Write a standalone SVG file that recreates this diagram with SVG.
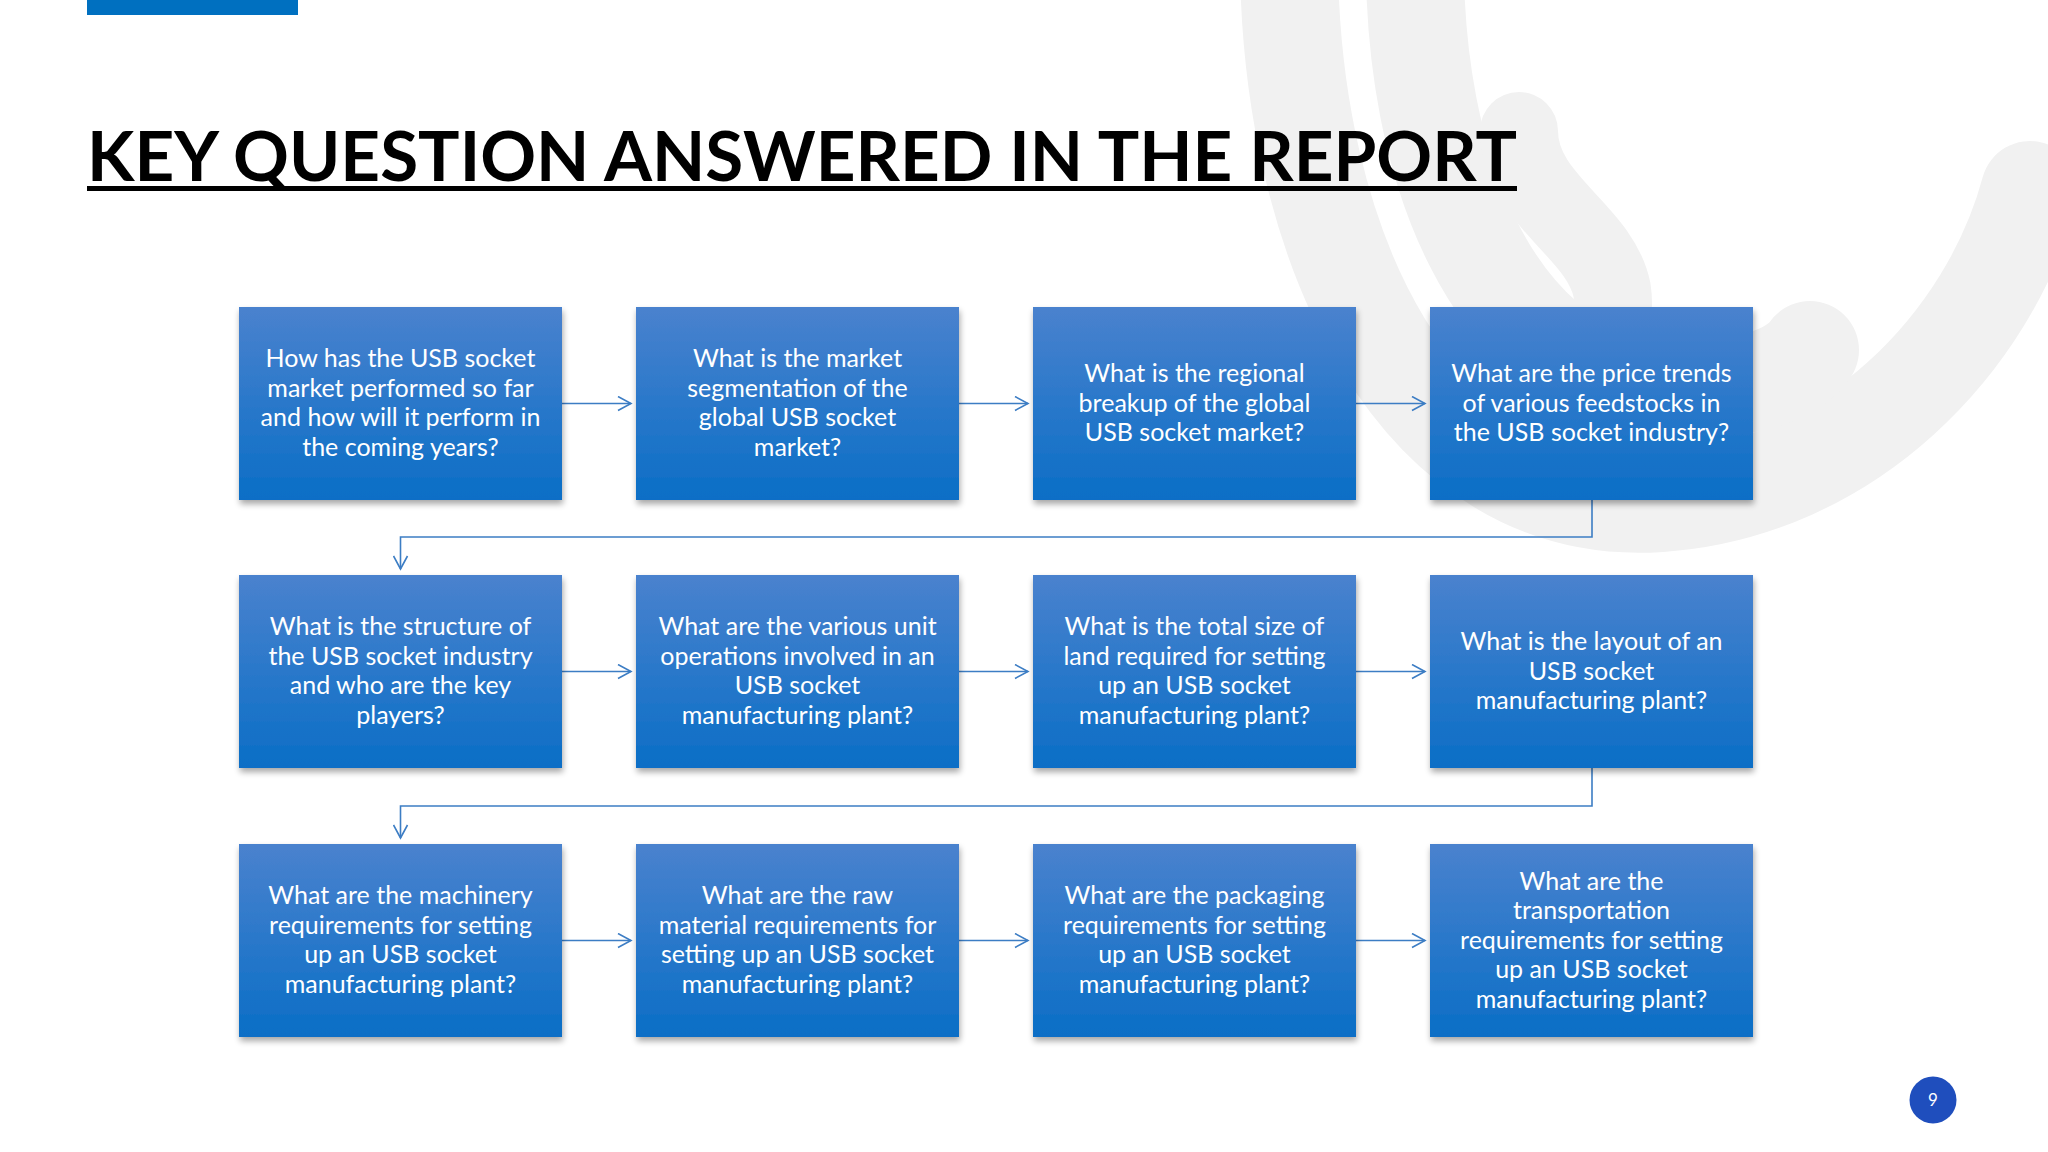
<svg xmlns="http://www.w3.org/2000/svg" width="2048" height="1152" viewBox="0 0 2048 1152">
  <defs>
    <linearGradient id="boxGrad" x1="0" y1="0" x2="0" y2="1">
      <stop offset="0" stop-color="#4A82CE"/>
      <stop offset="1" stop-color="#0A6EC6"/>
    </linearGradient>
    <filter id="shadow" x="-10%" y="-10%" width="125%" height="130%">
      <feGaussianBlur in="SourceAlpha" stdDeviation="3"/>
      <feOffset dx="1" dy="4" result="b"/>
      <feComponentTransfer><feFuncA type="linear" slope="0.35"/></feComponentTransfer>
      <feMerge><feMergeNode/><feMergeNode in="SourceGraphic"/></feMerge>
    </filter>
    <marker id="arrow" markerWidth="16" markerHeight="16" refX="14" refY="8" orient="auto" markerUnits="userSpaceOnUse">
      <path d="M1,1 L14,8 L1,15" fill="none" stroke="#3C7DC4" stroke-width="1.6"/>
    </marker>
  </defs>
  <style>
    .box { fill: url(#boxGrad); filter: url(#shadow); }
    .lbl { font-family: Lato, "Noto Sans", sans-serif; font-size: 25px; fill: #FFFFFF; text-anchor: middle; }
    .conn { fill: none; stroke: #3C7DC4; stroke-width: 1.6; marker-end: url(#arrow); }
    .wm { fill: none; stroke: #F1F1F1; stroke-linecap: round; }
  </style>

  <rect width="2048" height="1152" fill="#FFFFFF"/>

  <g id="watermark">
    <path class="wm" stroke-width="98" d="M1289 -60 C1285 250 1420 520 1660 503 C1850 490 1990 340 2030 190"/>
    <path class="wm" stroke-width="98" d="M1415 -60 C1410 180 1500 360 1640 386 C1720 398 1790 380 1810 350"/>
    <path class="wm" stroke-width="78" d="M1519 131 C1519 200 1600 230 1612 290 C1618 330 1595 360 1560 372"/>
  </g>

  <rect id="top-bar" x="87" y="0" width="211" height="15" fill="#0070C0"/>

  <g id="title">
    <text x="87" y="181" font-family="Lato, 'Noto Sans', sans-serif" font-weight="bold" font-size="68" fill="#000000" textLength="1430" lengthAdjust="spacingAndGlyphs">KEY QUESTION ANSWERED IN THE REPORT</text>
    <rect x="87" y="186" width="1430" height="5" fill="#000000"/>
  </g>

  <g id="connectors">
    <line class="conn" x1="562" y1="403.5" x2="631" y2="403.5"/>
    <line class="conn" x1="959" y1="403.5" x2="1028" y2="403.5"/>
    <line class="conn" x1="1356" y1="403.5" x2="1425" y2="403.5"/>
    <polyline class="conn" points="1592,500 1592,537 400.5,537 400.5,569"/>
    <line class="conn" x1="562" y1="671.5" x2="631" y2="671.5"/>
    <line class="conn" x1="959" y1="671.5" x2="1028" y2="671.5"/>
    <line class="conn" x1="1356" y1="671.5" x2="1425" y2="671.5"/>
    <polyline class="conn" points="1592,768 1592,806 400.5,806 400.5,838"/>
    <line class="conn" x1="562" y1="940.5" x2="631" y2="940.5"/>
    <line class="conn" x1="959" y1="940.5" x2="1028" y2="940.5"/>
    <line class="conn" x1="1356" y1="940.5" x2="1425" y2="940.5"/>
  </g>

  <g id="node-1">
    <rect class="box" x="239" y="307" width="323" height="193"/>
    <text class="lbl" x="400.5" y="367"><tspan x="400.5">How has the USB socket</tspan><tspan x="400.5" dy="29.5">market performed so far</tspan><tspan x="400.5" dy="29.5">and how will it perform in</tspan><tspan x="400.5" dy="29.5">the coming years?</tspan></text>
  </g>
  <g id="node-2">
    <rect class="box" x="636" y="307" width="323" height="193"/>
    <text class="lbl" x="797.5" y="367"><tspan x="797.5">What is the market</tspan><tspan x="797.5" dy="29.5">segmentation of the</tspan><tspan x="797.5" dy="29.5">global USB socket</tspan><tspan x="797.5" dy="29.5">market?</tspan></text>
  </g>
  <g id="node-3">
    <rect class="box" x="1033" y="307" width="323" height="193"/>
    <text class="lbl" x="1194.5" y="382"><tspan x="1194.5">What is the regional</tspan><tspan x="1194.5" dy="29.5">breakup of the global</tspan><tspan x="1194.5" dy="29.5">USB socket market?</tspan></text>
  </g>
  <g id="node-4">
    <rect class="box" x="1430" y="307" width="323" height="193"/>
    <text class="lbl" x="1591.5" y="382"><tspan x="1591.5">What are the price trends</tspan><tspan x="1591.5" dy="29.5">of various feedstocks in</tspan><tspan x="1591.5" dy="29.5">the USB socket industry?</tspan></text>
  </g>

  <g id="node-5">
    <rect class="box" x="239" y="575" width="323" height="193"/>
    <text class="lbl" x="400.5" y="635"><tspan x="400.5">What is the structure of</tspan><tspan x="400.5" dy="29.5">the USB socket industry</tspan><tspan x="400.5" dy="29.5">and who are the key</tspan><tspan x="400.5" dy="29.5">players?</tspan></text>
  </g>
  <g id="node-6">
    <rect class="box" x="636" y="575" width="323" height="193"/>
    <text class="lbl" x="797.5" y="635"><tspan x="797.5">What are the various unit</tspan><tspan x="797.5" dy="29.5">operations involved in an</tspan><tspan x="797.5" dy="29.5">USB socket</tspan><tspan x="797.5" dy="29.5">manufacturing plant?</tspan></text>
  </g>
  <g id="node-7">
    <rect class="box" x="1033" y="575" width="323" height="193"/>
    <text class="lbl" x="1194.5" y="635"><tspan x="1194.5">What is the total size of</tspan><tspan x="1194.5" dy="29.5">land required for setting</tspan><tspan x="1194.5" dy="29.5">up an USB socket</tspan><tspan x="1194.5" dy="29.5">manufacturing plant?</tspan></text>
  </g>
  <g id="node-8">
    <rect class="box" x="1430" y="575" width="323" height="193"/>
    <text class="lbl" x="1591.5" y="650"><tspan x="1591.5">What is the layout of an</tspan><tspan x="1591.5" dy="29.5">USB socket</tspan><tspan x="1591.5" dy="29.5">manufacturing plant?</tspan></text>
  </g>

  <g id="node-9">
    <rect class="box" x="239" y="844" width="323" height="193"/>
    <text class="lbl" x="400.5" y="904"><tspan x="400.5">What are the machinery</tspan><tspan x="400.5" dy="29.5">requirements for setting</tspan><tspan x="400.5" dy="29.5">up an USB socket</tspan><tspan x="400.5" dy="29.5">manufacturing plant?</tspan></text>
  </g>
  <g id="node-10">
    <rect class="box" x="636" y="844" width="323" height="193"/>
    <text class="lbl" x="797.5" y="904"><tspan x="797.5">What are the raw</tspan><tspan x="797.5" dy="29.5">material requirements for</tspan><tspan x="797.5" dy="29.5">setting up an USB socket</tspan><tspan x="797.5" dy="29.5">manufacturing plant?</tspan></text>
  </g>
  <g id="node-11">
    <rect class="box" x="1033" y="844" width="323" height="193"/>
    <text class="lbl" x="1194.5" y="904"><tspan x="1194.5">What are the packaging</tspan><tspan x="1194.5" dy="29.5">requirements for setting</tspan><tspan x="1194.5" dy="29.5">up an USB socket</tspan><tspan x="1194.5" dy="29.5">manufacturing plant?</tspan></text>
  </g>
  <g id="node-12">
    <rect class="box" x="1430" y="844" width="323" height="193"/>
    <text class="lbl" x="1591.5" y="889.5"><tspan x="1591.5">What are the</tspan><tspan x="1591.5" dy="29.5">transportation</tspan><tspan x="1591.5" dy="29.5">requirements for setting</tspan><tspan x="1591.5" dy="29.5">up an USB socket</tspan><tspan x="1591.5" dy="29.5">manufacturing plant?</tspan></text>
  </g>

  <g id="page-number">
    <circle cx="1933" cy="1100" r="23.5" fill="#1F4EBD"/>
    <text x="1933" y="1106" font-family="Lato, 'Noto Sans', sans-serif" font-size="17" fill="#FFFFFF" text-anchor="middle">9</text>
  </g>
</svg>
